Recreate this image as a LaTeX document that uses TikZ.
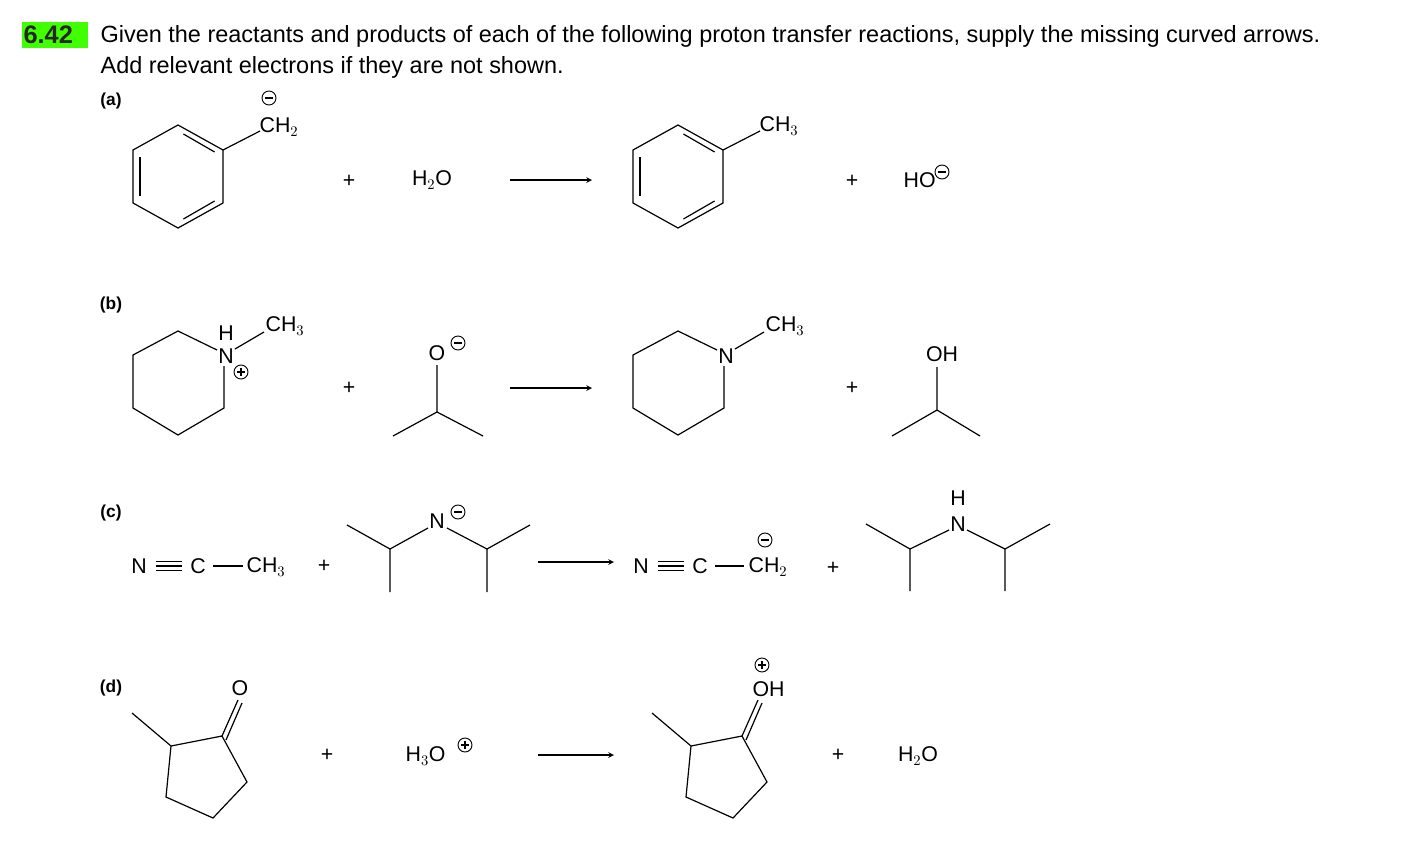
\documentclass[tikz,border=0pt]{standalone}
\usepackage{fontspec}
\setmainfont{Liberation Sans}
\usetikzlibrary{calc}
\begin{document}
\begin{tikzpicture}[x=0.75pt,y=-0.75pt,line width=0.9pt,
  lbl/.style={font=\fontsize{16pt}{18pt}\selectfont,inner sep=0pt},
  part/.style={font=\fontsize{13pt}{15pt}\selectfont\bfseries,inner sep=0pt},
  rxn/.style={-stealth,line width=0.9pt},
  minuscharge/.pic={\draw[line width=0.7pt] (0,0) circle (7); \draw[line width=0.9pt] (-4,0)--(4,0);},
  pluscharge/.pic={\draw[line width=0.7pt] (0,0) circle (7); \draw[line width=0.9pt] (-4,0)--(4,0) (0,-4)--(0,4);}]
\useasboundingbox (0,0) rectangle (1408,854);
% header
\fill[green!75!yellow] (22,22) rectangle (88,48);
\node[font=\fontsize{19pt}{22pt}\selectfont\bfseries,anchor=west,inner sep=0pt,text=black!85] (num) at (23,35) {6.42};
\node[font=\fontsize{17.6pt}{20pt}\selectfont,anchor=west,inner sep=0pt] (t1) at (100,36) {Given the reactants and products of each of the following proton transfer reactions, supply the missing curved arrows.};
\node[font=\fontsize{17.6pt}{20pt}\selectfont,anchor=west,inner sep=0pt] (t2) at (100,67) {Add relevant electrons if they are not shown.};
% labels
\node[part] (la) at (111,101) {(a)};
\node[part] (lb) at (111,305) {(b)};
\node[part] (lc) at (111,513) {(c)};
\node[part] (ld) at (111,688) {(d)};
% ===== (a)
\foreach \dx/\nm in {0/r,500/p}{
 \begin{scope}[xshift=\dx*0.75pt]
 \coordinate (\nm1) at (178,125); \coordinate (\nm2) at (223,150); \coordinate (\nm3) at (223,203);
 \coordinate (\nm4) at (178,228); \coordinate (\nm5) at (133,203); \coordinate (\nm6) at (133,150);
 \draw (\nm1)--(\nm2)--(\nm3)--(\nm4)--(\nm5)--(\nm6)--cycle;
 \draw ($(\nm1)!0.12!(\nm2)+(0,6)$) -- ($(\nm1)!0.88!(\nm2)+(-3,5)$);
 \draw ($(\nm3)!0.12!(\nm4)+(-3,-5)$) -- ($(\nm3)!0.88!(\nm4)+(0,-6)$);
 \draw (140,157) -- (140,196);
 \draw (\nm2) -- (260,131);
 \end{scope}}
\node[lbl,anchor=west] (ch2a) at (259,127) {CH$_2$};
\pic at (269,98) {minuscharge};
\node[lbl] (pla) at (349,181) {+};
\node[lbl] (h2oa) at (432,180) {H$_2$O};
\draw[rxn] (510,180) -- (592,180);
\node[lbl,anchor=west] (ch3a) at (759,126) {CH$_3$};
\node[lbl] (plap) at (852,181) {+};
\node[lbl,anchor=west] (hoa) at (903,180) {HO};
\pic at (942,172) {minuscharge};
% ===== (b)
\foreach \dx/\nm in {0/b,500/q}{
 \begin{scope}[xshift=\dx*0.75pt]
 \draw (217,350) -- (178,331) -- (133,355) -- (133,408) -- (178,435) -- (224,408) -- (224,366);
 \draw (235,349) -- (264,332);
 \end{scope}}
\node[lbl] (nb) at (226,356) {N};
\node[lbl] (hb) at (226,333) {H};
\node[lbl,anchor=west] (ch3b) at (265,326) {CH$_3$};
\pic at (241,372) {pluscharge};
\node[lbl] (plb) at (349,388) {+};
\node[lbl] (ob) at (437,353) {O};
\pic at (458,343) {minuscharge};
\draw (437,365) -- (437,412) -- (393,436) (437,412) -- (483,436);
\draw[rxn] (510,388) -- (592,388);
\node[lbl] (nq) at (726,356) {N};
\node[lbl,anchor=west] (ch3q) at (765,326) {CH$_3$};
\node[lbl] (plbp) at (852,388) {+};
\node[lbl] (ohb) at (942,354) {OH};
\draw (937,367) -- (937,410) -- (892,436) (937,410) -- (980,436);
% ===== (c)
\node[lbl] (nc) at (139,566) {N};
\node[lbl] (cc) at (198,566) {C};
\node[lbl,anchor=west] (ch3c) at (246,567) {CH$_3$};
\draw (156,561.5)--(182,561.5) (156,566)--(182,566) (156,570.5)--(182,570.5);
\draw (213,566)--(243,566);
\node[lbl] (plc) at (324,566) {+};
\node[lbl] (nc2) at (437,521) {N};
\pic at (458,512) {minuscharge};
\draw (428,528) -- (390,549) -- (347,525) (390,549) -- (390,592);
\draw (447,528) -- (487,549) -- (530,525) (487,549) -- (487,592);
\draw[rxn] (538,562) -- (614,562);
\node[lbl] (ncp) at (641,566) {N};
\node[lbl] (ccp) at (700,566) {C};
\node[lbl,anchor=west] (ch2c) at (748,567) {CH$_2$};
\draw (658,561.5)--(684,561.5) (658,566)--(684,566) (658,570.5)--(684,570.5);
\draw (715,566)--(744,566);
\pic at (765,540) {minuscharge};
\node[lbl] (plcp) at (833,568) {+};
\node[lbl] (nh) at (958,524) {N};
\node[lbl] (hh) at (958,498) {H};
\draw (949,530) -- (910,549) -- (866,524) (910,549) -- (910,591);
\draw (967,530) -- (1005,549) -- (1050,524) (1005,549) -- (1005,591);
% ===== (d)
\foreach \dx/\nm in {0/d,520/e}{
 \begin{scope}[xshift=\dx*0.75pt]
 \draw (132,713) -- (171,746);
 \draw (171,746) -- (222,736) -- (247,782) -- (213,818) -- (166,797) -- cycle;
 \draw (222,736) -- (238,700) (226,740) -- (242,703);
 \end{scope}}
\node[lbl] (od) at (240,688) {O};
\node[lbl] (pld) at (327,755) {+};
\node[lbl,anchor=west] (h3o) at (405,756) {H$_3$O};
\pic at (465,745) {pluscharge};
\draw[rxn] (538,755) -- (614,755);
\node[lbl,anchor=west] (ohd) at (752,689) {OH};
\pic at (762,665) {pluscharge};
\node[lbl] (pldp) at (838,755) {+};
\node[lbl] (h2od) at (918,756) {H$_2$O};
\end{tikzpicture}
\end{document}
